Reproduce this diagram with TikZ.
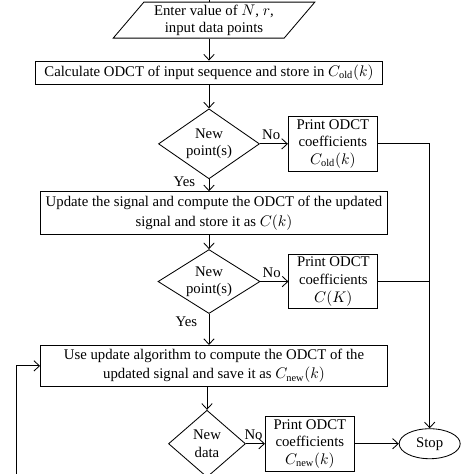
\documentclass[tikz,border=0pt]{standalone}
\usepackage{fontspec}
\setmainfont{Liberation Serif}
\usetikzlibrary{positioning,arrows.meta,shapes.geometric}

\begin{document}
\begin{tikzpicture}[
  x=0.25mm, y=-0.25mm,
  font=\fontsize{10.5}{12.5}\selectfont,
  line width=0.6pt,
  box/.style={draw,rectangle,align=center,inner xsep=2pt,inner ysep=2pt},
  wide/.style={box,minimum width=86.75mm},
  prbox/.style={box,minimum width=22.25mm,minimum height=13.25mm},
  dec/.style={draw,diamond,align=center,inner sep=0pt},
  io/.style={draw,trapezium,trapezium left angle=50,trapezium right angle=130,
             trapezium stretches=true,align=center,minimum width=50.5mm,minimum height=9mm,inner sep=0pt},
  term/.style={draw,ellipse,minimum width=15.25mm,minimum height=7.5mm,inner sep=0pt},
  lbl/.style={inner sep=1pt},
  ar/.style={-{Straight Barb[length=1.4mm,width=2.6mm]}}
]
\useasboundingbox (0,0) rectangle (474,474);
\clip (0,0) rectangle (474,474);

%% ---- main column ---------------------------------------------------------
\node[wide, minimum height=5.75mm] (box1) at (209,72.5)
  {Calculate ODCT of input sequence and store in $C_{\mathrm{old}}(k)$};
\node[io, above=5.5mm of box1, xshift=1.25mm] (inp)
  {Enter value of $N$, $r$,\\input data points};
\node[dec, aspect=1.44, minimum width=25.25mm, minimum height=17.5mm,
      below=6mm of box1] (d1) {New\\point(s)};
\node[wide, minimum height=10.75mm, below=3mm of d1, xshift=1.25mm] (box2)
  {Update the signal and compute the ODCT of the updated\\[1.5pt]
   signal and store it as $C(k)$};
\node[dec, aspect=1.6, minimum width=25.5mm, minimum height=16mm,
      below=3.5mm of box2, xshift=-1.25mm] (d2) {New\\point(s)};
\node[wide, minimum height=10.25mm, below=7.75mm of d2, xshift=1.25mm] (box3)
  {Use update algorithm to compute the ODCT of the\\[1.5pt]
   updated signal and save it as $C_{\mathrm{new}}(k)$};
\node[dec, aspect=1.15, minimum width=19.25mm, minimum height=16.75mm,
      below=5.75mm of box3, xshift=-1.75mm] (d3) {New\\data};

%% ---- print boxes and stop ------------------------------------------------
\node[prbox, right=7mm of d1]    (pr1) {Print ODCT\\coefficients\\$C_{\mathrm{old}}(k)$};
\node[prbox, right=7mm of d2]    (pr2) {Print ODCT\\coefficients\\$C(K)$};
\node[prbox, right=4.75mm of d3] (pr3) {Print ODCT\\coefficients\\$C_{\mathrm{new}}(k)$};
\node[term, right=11mm of pr3]   (stop) {Stop};

%% ---- connectors ----------------------------------------------------------
\coordinate (entry) at ([yshift=4mm]inp.north -| box1.north);
\draw (entry) -- (entry |- inp.north);
\draw[ar] (box1.north |- inp.south) -- (box1.north);
\foreach \a/\b in {box1/d1, box2/d2, box3/d3} \draw[ar] (\a.south -| \b.north) -- (\b.north);
\foreach \a/\b in {d1/box2, d2/box3} \draw[ar] (\a.south) -- (\a.south |- \b.north);
\foreach \a/\b in {d1/pr1, d2/pr2, d3/pr3}
  \draw[ar] (\a) -- node[lbl,above=1.5pt,pos=0.4]{No} (\b);

\node[lbl, anchor=east] at ([xshift=-3mm,yshift=-0.5mm]d1.south) {Yes};
\node[lbl, anchor=east] at ([xshift=-2.5mm,yshift=-2mm]d2.south) {Yes};
\node[lbl, anchor=east] at ([xshift=-3.5mm,yshift=-1.5mm]d3.south) {Yes};

\draw[ar] (pr3) -- (stop);
\draw[ar] (pr1.east) -| (stop.north);
\draw (pr2.east) -- (pr2.east -| stop.north);

%% loop back from the last test into the update box
\coordinate[below=6mm of d3.south] (lp);
\coordinate[left=6mm of box3.west] (lx);
\draw[ar] (d3.south) -- (lp) -| (lx) -- (box3.west);
\end{tikzpicture}
\end{document}
